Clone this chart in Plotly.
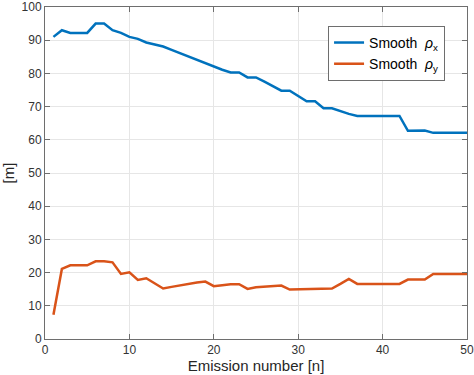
import plotly.graph_objects as go

emission = list(range(1, 51))
rho_x = [91.0, 93.0, 92.2, 92.2, 92.2, 95.0, 95.0, 93.0, 92.2, 91.0,
         90.4, 89.3, 88.7, 88.1, 87.1, 86.1, 85.1, 84.0, 83.0, 82.1,
         81.1, 80.3, 80.3, 78.8, 78.8, 77.5, 76.1, 74.8, 74.8, 73.2,
         71.6, 71.6, 69.5, 69.5, 68.6, 67.8, 67.2, 67.2, 67.2, 67.2,
         67.2, 67.2, 62.7, 62.8, 62.8, 62.1, 62.1, 62.1, 62.1, 62.1]
rho_y = [7.3, 21.1, 22.2, 22.2, 22.2, 23.4, 23.4, 23.1, 19.6, 20.1,
         17.8, 18.3, 16.8, 15.2, 15.7, 16.2, 16.6, 17.0, 17.3, 15.9,
         16.2, 16.5, 16.5, 15.1, 15.6, 15.8, 16.0, 16.1, 14.9, 15.0,
         15.1, 15.1, 15.1, 15.2, 16.6, 18.1, 16.6, 16.6, 16.6, 16.6,
         16.6, 16.6, 17.9, 17.9, 17.9, 19.6, 19.6, 19.6, 19.6, 19.6]
names = ["Smooth &nbsp;<i>ρ</i><sub>x</sub>", "Smooth &nbsp;<i>ρ</i><sub>y</sub>"]
colors = ["#0072BD", "#D95319"]

fig = go.Figure()
for vals, name, c in zip([rho_x, rho_y], names, colors):
    fig.add_trace(go.Scatter(x=emission, y=vals, mode="lines", name=name,
                             line=dict(color=c, width=2.5)))

axis_common = dict(showline=True, linecolor="#6e6e6e", linewidth=1, mirror="allticks",
                   ticks="inside", ticklen=5, tickcolor="#6e6e6e", automargin=False,
                   showgrid=True, gridcolor="#e6e6e6", gridwidth=1, zeroline=False,
                   tickfont=dict(family="Liberation Sans, Arial", size=12, color="#333333"))

fig.update_layout(
    width=474, height=375,
    margin=dict(l=45, r=7, t=7, b=36),
    paper_bgcolor="white", plot_bgcolor="white",
    font=dict(family="Liberation Sans, Arial", color="#262626"),
    xaxis=dict(range=[0, 50], tickvals=[0, 10, 20, 30, 40, 50],
               title=dict(text="Emission number [n]", font=dict(size=15), standoff=2),
               **axis_common),
    yaxis=dict(range=[0, 100], tickvals=list(range(0, 101, 10)),
               ticktext=[str(v) for v in range(0, 101, 10)],
               title=dict(text="[m]", font=dict(size=15), standoff=8),
               **axis_common),
    legend=dict(x=0.948, y=0.943, xanchor="right", yanchor="top",
                bgcolor="white", bordercolor="#6e6e6e", borderwidth=1,
                font=dict(size=14, color="#000000"), tracegroupgap=0,
                itemwidth=30),
    showlegend=True,
)

fig.write_html("out.html", config={"displayModeBar": False},
               post_script="document.body.style.margin='0px';")
